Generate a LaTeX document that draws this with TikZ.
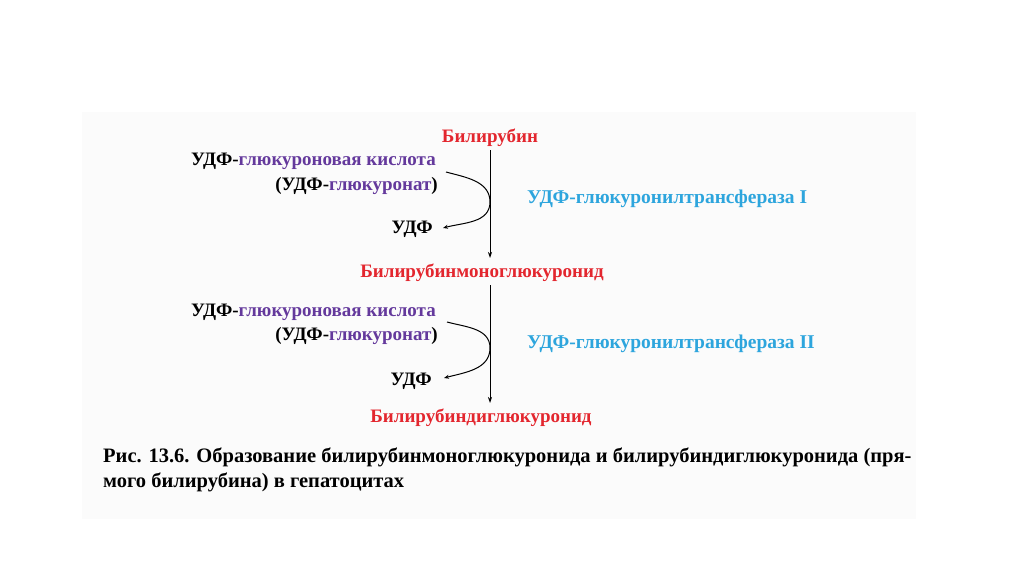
\documentclass[tikz,border=0pt]{standalone}
\usepackage{fontspec}
\setmainfont{Liberation Serif}
\usetikzlibrary{arrows.meta}
\definecolor{bred}{HTML}{E3262E}
\definecolor{bpurple}{HTML}{64399C}
\definecolor{bcyan}{HTML}{2DA5DD}
\definecolor{panel}{HTML}{FBFBFB}
\tikzset{
  lbl/.style={inner sep=0pt, font=\fontsize{19}{22}\selectfont\bfseries},
  redlbl/.style={lbl, text=bred},
  enzlbl/.style={inner sep=0pt, font=\fontsize{19.5}{22}\selectfont\bfseries, text=bcyan, anchor=west},
  reag/.style={lbl, anchor=east},
  mainarrow/.style={draw=black, line width=0.8pt, -{Stealth[length=6pt,width=4pt]}},
  sidearrow/.style={draw=black, line width=1pt, -{Stealth[length=5pt,width=4pt]}},
}
\begin{document}
\begin{tikzpicture}[x=1pt,y=-1pt]
\useasboundingbox (0,0) rectangle (1024,576);
\fill[white] (0,0) rectangle (1024,576);
\fill[panel] (82,112) rectangle (916,519);

\node[redlbl] (bil) at (490,138) {Билирубин};
\node[redlbl] (mono) at (482,273) {Билирубинмоноглюкуронид};
\node[redlbl] (di) at (481,418) {Билирубиндиглюкуронид};

\node[reag] (udfg1) at (436,161) {УДФ-{\color{bpurple}глюкуроновая кислота}};
\node[reag] (udfgt1) at (438,186) {(УДФ-{\color{bpurple}глюкуронат})};
\node[reag] (udf1) at (433,229) {УДФ};
\node[enzlbl] (enz1) at (527,199) {УДФ-глюкуронилтрансфераза I};

\node[reag] (udfg2) at (436,312) {УДФ-{\color{bpurple}глюкуроновая кислота}};
\node[reag] (udfgt2) at (438,336) {(УДФ-{\color{bpurple}глюкуронат})};
\node[reag] (udf2) at (432,381) {УДФ};
\node[enzlbl] (enz2) at (527,344) {УДФ-глюкуронилтрансфераза II};

\node[inner sep=0pt, anchor=north west, align=left,
      font=\fontsize{20.5}{25}\selectfont\bfseries] (cap) at (103,448)
  {Рис. 13.6. Образование билирубинмоноглюкуронида и билирубиндиглюкуронида (пря-\\
   мого билирубина) в гепатоцитах};

\coordinate (a1) at (490,150);
\coordinate (b1) at (490,258);
\coordinate (a2) at (490,285);
\coordinate (b2) at (490,403);
\draw[mainarrow] (a1) -- (b1);
\draw[mainarrow] (a2) -- (b2);

\coordinate (s1) at (446,172);
\coordinate (t1) at (490,202);
\coordinate (e1) at (443,228);
\draw[sidearrow] (s1) to[out=-15,in=90] (t1) to[out=-90,in=15] (e1);

\coordinate (s2) at (447,322);
\coordinate (t2) at (490,348);
\coordinate (e2) at (444,378);
\draw[sidearrow] (s2) to[out=-15,in=90] (t2) to[out=-90,in=15] (e2);
\end{tikzpicture}
\end{document}
